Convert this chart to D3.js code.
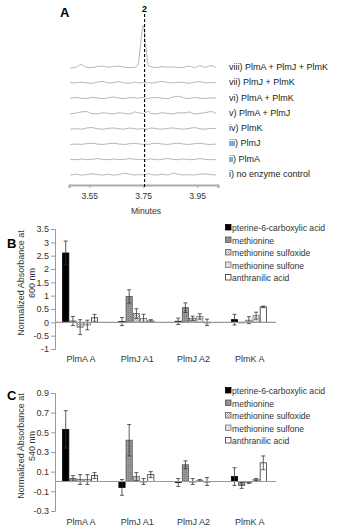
<!DOCTYPE html>
<html>
<head>
<meta charset="utf-8">
<script src="https://cdn.jsdelivr.net/npm/d3@7"></script>
<style>
  body { margin: 0; background: #fff; }
  svg { display: block; font-family: "Liberation Sans", Arial, sans-serif; }
</style>
</head>
<body>
<div id="chart"></div>
<script>
// ---- panel A: chromatogram traces ----
var times = [3.48, 3.50, 3.52, 3.54, 3.56, 3.58, 3.60, 3.62, 3.64, 3.66, 3.68, 3.70, 3.72,
  3.73, 3.74, 3.75, 3.76, 3.77,
  3.78, 3.80, 3.82, 3.84, 3.86, 3.88, 3.90, 3.92, 3.94, 3.96, 3.98, 4.00, 4.02]
var traceLabels = ["viii) PlmA + PlmJ + PlmK", "vii) PlmJ + PlmK", "vi) PlmA + PlmK", "v) PlmA + PlmJ",
  "iv) PlmK", "iii) PlmJ", "ii) PlmA", "i) no enzyme control"]
var traceViii = [0, 2, 9, 2, 1, 4, 5, 2, 4, 5, 2, 1, 2, 8, 60, 112, 55, 6, 3, 1, 4, 2, 3, 1, 2, 5, 1, 6, 2, 6, 1]
var traceVii = [2, 1, 3, 1, 0, 3, 5, 1, 2, 4, 1, 0, 3, 2, 1, 2, 1, 2, 0, 3, 5, 2, 1, 3, 2, 0, 3, 4, 1, 2, 1]
var traceVi = [1, 3, 1, 0, 3, 2, 0, 2, 4, 1, 0, 3, 2, 1, 2, 3, 1, 0, 2, 3, 1, 0, 4, 6, 2, 0, 3, 1, 0, 2, 1]
var traceV = [0, 2, 5, 6, 1, 0, 3, 1, 0, 3, 1, 0, 5, 3, 2, 1, 4, 6, 1, 0, 3, 1, 0, 3, 2, 5, 0, 1, 3, 6, 1]
var traceIv = [0, 1, 0, 3, 4, 1, 0, 2, 3, 1, 0, 3, 1, 0, 1, 1, 0, 1, 3, 1, 0, 2, 3, 1, 0, 2, 4, 1, 0, 2, 1]
var traceIii = [0, 1, 0, 2, 3, 1, 0, 2, 3, 1, 0, 2, 3, 2, 1, 0, 1, 0, 2, 3, 1, 0, 2, 3, 1, 0, 2, 3, 1, 0, 1]
var traceIi = [1, 0, 2, 0, 1, 3, 1, 0, 2, 0, 1, 3, 1, 1, 0, 1, 0, 1, 2, 0, 1, 3, 1, 0, 2, 0, 1, 3, 1, 0, 1]
var traceI = [0, 2, 0, 1, 3, 1, 0, 2, 0, 1, 5, 2, 0, 1, 1, 0, 2, 3, 1, 0, 2, 0, 5, 2, 0, 1, 0, 2, 3, 1, 0]
var traces = [traceViii, traceVii, traceVi, traceV, traceIv, traceIii, traceIi, traceI]
var minuteTicks = [3.55, 3.75, 3.95]
var peakTime = 3.755

// ---- panels B and C: bar data ----
var categories = ["PlmA A", "PlmJ A1", "PlmJ A2", "PlmK A"]
var series = ["pterine-6-carboxylic acid", "methionine", "methionine sulfoxide", "methionine sulfone", "anthranilic acid"]

// values per series, one per category
var b600 = [
  [2.6, 0.03, 0.04, 0.1],
  [0.05, 0.97, 0.55, 0.0],
  [-0.18, 0.33, 0.15, 0.08],
  [-0.1, 0.15, 0.22, 0.25],
  [0.17, 0.05, 0.0, 0.58]
]
var b600Err = [
  [0.45, 0.15, 0.12, 0.2],
  [0.17, 0.25, 0.18, 0.0],
  [0.28, 0.18, 0.08, 0.13],
  [0.18, 0.15, 0.1, 0.13],
  [0.13, 0.05, 0.12, 0.03]
]
var b600Ticks = [-1, -0.5, 0, 0.5, 1, 1.5, 2, 2.5, 3, 3.5]

var c540 = [
  [0.53, -0.06, -0.01, 0.05],
  [0.03, 0.42, 0.17, -0.04],
  [0.02, 0.05, 0.0, -0.01],
  [0.02, 0.0, 0.01, 0.02],
  [0.06, 0.07, 0.0, 0.19]
]
var c540Err = [
  [0.19, 0.08, 0.04, 0.09],
  [0.03, 0.16, 0.04, 0.03],
  [0.05, 0.04, 0.03, 0.01],
  [0.05, 0.03, 0.01, 0.01],
  [0.03, 0.03, 0.04, 0.07]
]
var c540Ticks = [-0.3, -0.1, 0.1, 0.3, 0.5, 0.7, 0.9]

var width = 342
var height = 527

var svg = d3.select('#chart').append('svg')
  .attr('width', width).attr('height', height)

// patterns for the grey series
var defs = svg.append('defs')
var pMet = defs.append('pattern').attr('id', 'pMet').attr('patternUnits', 'userSpaceOnUse')
  .attr('width', 2).attr('height', 2)
pMet.append('rect').attr('width', 2).attr('height', 2).attr('fill', '#9a9a9a')
pMet.append('rect').attr('width', 1).attr('height', 1).attr('fill', '#7a7a7a')
var pSox = defs.append('pattern').attr('id', 'pSox').attr('patternUnits', 'userSpaceOnUse')
  .attr('width', 2).attr('height', 2)
pSox.append('rect').attr('width', 2).attr('height', 2).attr('fill', '#ececec')
pSox.append('rect').attr('width', 1).attr('height', 1).attr('fill', '#a8a8a8')
pSox.append('rect').attr('x', 1).attr('y', 1).attr('width', 1).attr('height', 1).attr('fill', '#a8a8a8')
var pSone = defs.append('pattern').attr('id', 'pSone').attr('patternUnits', 'userSpaceOnUse')
  .attr('width', 2).attr('height', 2)
pSone.append('rect').attr('width', 2).attr('height', 2).attr('fill', '#efefef')
pSone.append('rect').attr('width', 1).attr('height', 2).attr('fill', '#d4d4d4')

var fills = ['#000', 'url(#pMet)', 'url(#pSox)', 'url(#pSone)', '#fff']
var strokes = ['#000', '#555', '#666', '#777', '#333']

// ================= panel A =================
var xA = d3.scaleLinear().domain([3.475, 4.027]).range([69, 218])
var traceBase = d3.scaleLinear().domain([0, traces.length - 1]).range([68, 175])
var traceAmp = 0.38

svg.append('text').attr('x', 60).attr('y', 17).text('A')
  .attr('font-size', 13).attr('font-weight', 'bold')

var line = d3.line().curve(d3.curveMonotoneX)
traces.forEach(function(tr, i) {
  var base = traceBase(i)
  svg.append('path')
    .attr('d', line(tr.map(function(v, j) { return [xA(times[j]), base - v * traceAmp] })))
    .attr('fill', 'none').attr('stroke', '#b5b5b5').attr('stroke-width', 1)
  svg.append('text').attr('x', 229).attr('y', base + 2).text(traceLabels[i])
    .attr('font-size', 9).attr('fill', '#222')
})

var axA = svg.append('g').attr('transform', 'translate(0,185)')
  .call(d3.axisBottom(xA).tickValues(minuteTicks).tickSize(3).tickPadding(5)
    .tickFormat(d3.format('.2f')))
axA.select('.domain').attr('stroke', '#aaa').attr('stroke-width', 2)
axA.selectAll('line').attr('stroke', '#aaa')
axA.selectAll('text').attr('font-size', 8.6).attr('fill', '#333')
  .style('font-family', '"Liberation Sans", Arial, sans-serif')

svg.append('line').attr('x1', xA(peakTime)).attr('x2', xA(peakTime)).attr('y1', 14).attr('y2', 188)
  .attr('stroke', '#000').attr('stroke-width', 1.1).attr('stroke-dasharray', '3,2')
svg.append('text').attr('x', xA(peakTime)).attr('y', 12).attr('text-anchor', 'middle')
  .text('2').attr('font-size', 9).attr('font-weight', 'bold')

svg.append('text').attr('x', 146).attr('y', 214).attr('text-anchor', 'middle')
  .text('Minutes').attr('font-size', 8.6).attr('fill', '#333')

// ================= bar panels =================
function barPanel(opts) {
  var x = d3.scaleBand().domain(categories).range([52, 277]).paddingInner(0.36).paddingOuter(0.18)
  var xs = d3.scaleBand().domain(d3.range(series.length)).range([0, x.bandwidth()])
  var y = d3.scaleLinear().domain(opts.domain).range([opts.bottom, opts.top])
  var g = svg.append('g')

  g.append('text').attr('x', 7).attr('y', opts.letterY).text(opts.letter)
    .attr('font-size', 13).attr('font-weight', 'bold')

  var yAxis = g.append('g').attr('transform', 'translate(55,0)')
    .call(d3.axisLeft(y).tickValues(opts.ticks).tickSize(4).tickPadding(2)
      .tickFormat(function(d) { return String(+d.toFixed(2)) }))
  yAxis.selectAll('path, line').attr('stroke', '#999')
  yAxis.selectAll('text').attr('font-size', 9).attr('fill', '#333')
    .style('font-family', '"Liberation Sans", Arial, sans-serif')

  // axis title
  var ty = (opts.top + opts.bottom) / 2 - 6
  var title = g.append('text').attr('transform', 'translate(24,' + ty + ') rotate(-90)')
    .attr('text-anchor', 'middle').attr('font-size', 9).attr('fill', '#333')
  title.append('tspan').attr('x', 0).attr('y', 0).text('Normalized Absorbance at')
  title.append('tspan').attr('x', 0).attr('y', 10.5).text(opts.unit)

  // bars
  series.forEach(function(s, si) {
    var vals = opts.values[si]
    var errs = opts.errors[si]
    categories.forEach(function(c, ci) {
      var v = vals[ci]
      var bx = x(c) + xs(si)
      var bw = xs.bandwidth()
      g.append('rect').attr('x', bx + 0.5).attr('width', bw - 1)
        .attr('y', y(Math.max(v, 0))).attr('height', Math.max(Math.abs(y(v) - y(0)), 0.5))
        .attr('fill', fills[si]).attr('stroke', strokes[si]).attr('stroke-width', 0.8)
      var cx = bx + bw / 2
      var e = errs[ci]
      if (e > 0) {
        g.append('line').attr('x1', cx).attr('x2', cx).attr('y1', y(v - e)).attr('y2', y(v + e))
          .attr('stroke', '#333').attr('stroke-width', 0.8)
        ;[v - e, v + e].forEach(function(ev) {
          g.append('line').attr('x1', cx - 2).attr('x2', cx + 2).attr('y1', y(ev)).attr('y2', y(ev))
            .attr('stroke', '#333').attr('stroke-width', 0.8)
        })
      }
    })
  })

  // zero line
  g.append('line').attr('x1', 55).attr('x2', 276).attr('y1', y(0)).attr('y2', y(0))
    .attr('stroke', '#999').attr('stroke-width', 1.2)

  // category labels
  g.append('g').selectAll('text').data(categories).enter().append('text')
    .attr('x', function(d) { return x(d) + x.bandwidth() / 2 + 1 }).attr('y', opts.catY)
    .attr('text-anchor', 'middle').attr('font-size', 9).attr('fill', '#333')
    .text(function(d) { return d })

  // legend
  series.forEach(function(s, si) {
    var ly = opts.legendY + si * 12.5
    g.append('rect').attr('x', 225.5).attr('y', ly - 6.5).attr('width', 5.5).attr('height', 5.5)
      .attr('fill', fills[si]).attr('stroke', strokes[si]).attr('stroke-width', 0.8)
    g.append('text').attr('x', 232).attr('y', ly).text(s)
      .attr('font-size', 8.6).attr('fill', '#333')
  })
}

barPanel({
  letter: 'B', letterY: 248, domain: [-1, 3.5], top: 229, bottom: 349, ticks: b600Ticks,
  values: b600, errors: b600Err, unit: '600 nm', catY: 362, legendY: 231
})
barPanel({
  letter: 'C', letterY: 400, domain: [-0.3, 0.9], top: 393, bottom: 511, ticks: c540Ticks,
  values: c540, errors: c540Err, unit: '540 nm', catY: 525, legendY: 394
})
</script>
</body>
</html>
